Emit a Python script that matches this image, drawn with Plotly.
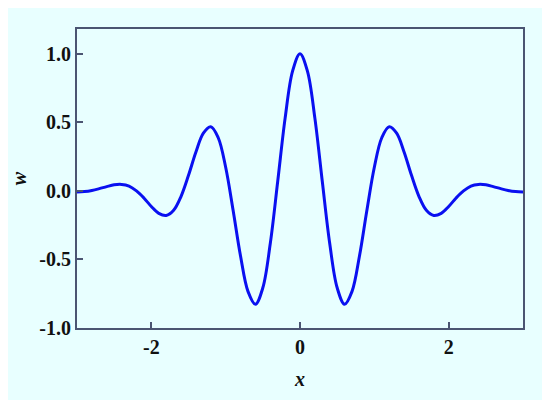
import plotly.graph_objects as go

x_values = [-3.0, -2.9, -2.8, -2.7, -2.6, -2.5, -2.4, -2.3, -2.2, -2.1,
            -2.0, -1.9, -1.8, -1.7, -1.6, -1.5, -1.4, -1.3, -1.2, -1.1,
            -1.0, -0.9, -0.8, -0.7, -0.6, -0.5, -0.4, -0.3, -0.2, -0.1,
            0.0, 0.1, 0.2, 0.3, 0.4, 0.5, 0.6, 0.7, 0.8, 0.9,
            1.0, 1.1, 1.2, 1.3, 1.4, 1.5, 1.6, 1.7, 1.8, 1.9,
            2.0, 2.1, 2.2, 2.3, 2.4, 2.5, 2.6, 2.7, 2.8, 2.9, 3.0]
w_values = [-0.008, -0.005, 0.003, 0.016, 0.031, 0.044, 0.047, 0.035, 0.000, -0.052,
            -0.114, -0.164, -0.180, -0.142, -0.040, 0.113, 0.283, 0.420, 0.467, 0.387,
            0.172, -0.141, -0.475, -0.733, -0.827, -0.707, -0.384, 0.068, 0.530, 0.873,
            1.000, 0.873, 0.530, 0.068, -0.384, -0.707, -0.827, -0.733, -0.475, -0.141,
            0.172, 0.387, 0.467, 0.420, 0.283, 0.113, -0.040, -0.142, -0.180, -0.164,
            -0.114, -0.052, 0.000, 0.035, 0.047, 0.044, 0.031, 0.016, 0.003, -0.005, -0.008]

x_ticks = [-2, 0, 2]
x_tick_labels = ["-2", "0", "2"]
y_ticks = [-1.0, -0.5, 0.0, 0.5, 1.0]
y_tick_labels = ["-1.0", "-0.5", "0.0", "0.5", "1.0"]

BG = "#e8ffff"
FRAME = "#4b5572"
TXT = "#111111"
FAM = "Liberation Serif"

fig = go.Figure()
fig.add_trace(go.Scatter(x=x_values, y=w_values, mode="lines",
                         line=dict(color="#0a10f0", width=3, shape="spline", smoothing=1.0),
                         hoverinfo="skip"))

fig.update_layout(
    width=550, height=400,
    margin=dict(l=69, r=35, t=21, b=80),
    paper_bgcolor=BG, plot_bgcolor=BG,
    showlegend=False,
    font=dict(family=FAM, size=20, color=TXT),
)
fig.update_xaxes(range=[-3, 3], tickvals=x_ticks,
                 ticktext=["<b>%s</b>" % t for t in x_tick_labels],
                 ticks="inside", ticklen=6, tickwidth=1.5, tickcolor=FRAME,
                 showline=True, linecolor=FRAME, linewidth=2, mirror=True,
                 showgrid=False, zeroline=False, automargin=False,
                 tickfont=dict(family=FAM, size=20, color=TXT),
                 title=dict(text="<b><i>x</i></b>", standoff=15,
                            font=dict(family=FAM, size=20, color=TXT)))
fig.update_yaxes(range=[-1, 1.18], tickvals=y_ticks,
                 ticktext=["<b>%s</b>" % t for t in y_tick_labels],
                 ticks="inside", ticklen=6, tickwidth=1.5, tickcolor=FRAME,
                 showline=True, linecolor=FRAME, linewidth=2, mirror=True,
                 showgrid=False, zeroline=False, automargin=False,
                 tickfont=dict(family=FAM, size=20, color=TXT),
                 title=dict(text="<b><i>w</i></b>", standoff=10,
                            font=dict(family=FAM, size=20, color=TXT)))

fig.write_html("out.html")
